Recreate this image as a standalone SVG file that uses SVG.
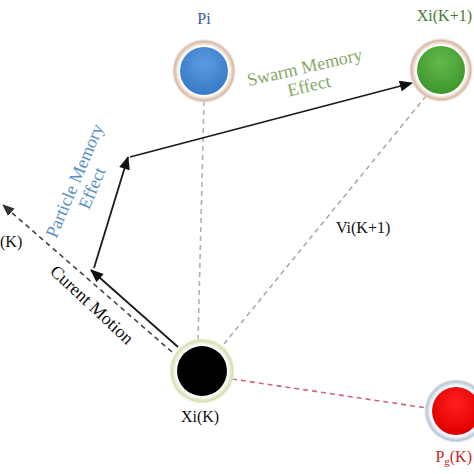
<svg xmlns="http://www.w3.org/2000/svg" width="474" height="474" viewBox="0 0 474 474">
<defs>
<style>
text{font-family:"Liberation Serif","DejaVu Serif",serif;font-size:16px}
.big{font-size:18px}
.solid{stroke:#1a1a1a;stroke-width:1.8;fill:none}
.dash{fill:none;stroke-width:1.6;stroke-dasharray:5 4}
</style>
<marker id="ah" viewBox="0 0 12 10" refX="11" refY="5" markerWidth="14" markerHeight="11" markerUnits="userSpaceOnUse" orient="auto">
<path d="M0,0 L12,5 L0,10 Z" fill="#111"/>
</marker>
<marker id="ahg" viewBox="0 0 12 10" refX="11" refY="5" markerWidth="12" markerHeight="10" markerUnits="userSpaceOnUse" orient="auto">
<path d="M0,0 L12,5 L0,10 Z" fill="#333"/>
</marker>
<radialGradient id="halo" cx="0.5" cy="0.5" r="0.5">
<stop offset="0.76" stop-color="#ffffff"/>
<stop offset="0.9" stop-color="#d6b8a4"/>
<stop offset="1" stop-color="#ffffff" stop-opacity="0"/>
</radialGradient>
<radialGradient id="haloY" cx="0.5" cy="0.5" r="0.5">
<stop offset="0.76" stop-color="#ffffff"/>
<stop offset="0.9" stop-color="#d8dcb0"/>
<stop offset="1" stop-color="#ffffff" stop-opacity="0"/>
</radialGradient>
<radialGradient id="haloB" cx="0.5" cy="0.5" r="0.5">
<stop offset="0.76" stop-color="#ffffff"/>
<stop offset="0.9" stop-color="#b8c4d4"/>
<stop offset="1" stop-color="#ffffff" stop-opacity="0"/>
</radialGradient>
<radialGradient id="blue" cx="0.5" cy="0.35" r="0.6">
<stop offset="0" stop-color="#5c9be0"/>
<stop offset="1" stop-color="#3a7cc8"/>
</radialGradient>
<radialGradient id="green" cx="0.5" cy="0.35" r="0.6">
<stop offset="0" stop-color="#66b84a"/>
<stop offset="1" stop-color="#3f9a2e"/>
</radialGradient>
<radialGradient id="red" cx="0.5" cy="0.35" r="0.6">
<stop offset="0" stop-color="#ff2020"/>
<stop offset="1" stop-color="#e00000"/>
</radialGradient>
</defs>
<rect width="474" height="474" fill="#ffffff"/>

<g id="connectors">
<line class="dash" x1="204" y1="101" x2="198" y2="341" stroke="#9ab8c4"/>
<line class="dash" x1="224" y1="344" x2="426" y2="96" stroke="#aaaaaa"/>
<line class="dash" x1="232" y1="379" x2="427" y2="408" stroke="#cc6677"/>
<line class="dash" x1="172" y1="352" x2="3" y2="205" stroke="#444" marker-end="url(#ahg)"/>
<line class="solid" x1="178" y1="347" x2="91" y2="270" marker-end="url(#ah)"/>
<line class="solid" x1="94" y1="268" x2="128" y2="157" marker-end="url(#ah)"/>
<line class="solid" x1="130" y1="157" x2="412" y2="83" marker-end="url(#ah)"/>
</g>

<g id="node-pi">
<circle cx="204" cy="71" r="33" fill="url(#halo)"/>
<circle cx="204" cy="71" r="24" fill="url(#blue)"/>
<text x="204" y="24" text-anchor="middle" fill="#3a5a9a">Pi</text>
</g>

<g id="node-xik1">
<circle cx="441" cy="70" r="33" fill="url(#halo)"/>
<circle cx="441" cy="70" r="24" fill="url(#green)"/>
<text x="472" y="21" text-anchor="end" fill="#4a7a3a">Xi(K+1)</text>
</g>

<g id="node-xik">
<circle cx="202" cy="371" r="34" fill="url(#haloY)"/>
<circle cx="202" cy="371" r="25" fill="#000"/>
<text x="200" y="422" text-anchor="middle" fill="#111">Xi(K)</text>
</g>

<g id="node-pg">
<circle cx="456" cy="411" r="33" fill="url(#haloB)"/>
<circle cx="456" cy="411" r="24" fill="url(#red)"/>
<text x="472" y="462" text-anchor="end" fill="#c0282a">P<tspan font-size="11" dy="3">g</tspan><tspan dy="-3">(K)</tspan></text>
</g>

<g id="labels">
<text x="0" y="247" fill="#111">(K)</text>
<text class="big" transform="translate(88,309) rotate(43)" text-anchor="middle" fill="#111">Curent Motion</text>
<g transform="translate(80,183) rotate(-67)" fill="#5a8fc8">
<text class="big" x="0" y="0" text-anchor="middle">Particle Memory</text>
<text class="big" x="0" y="19" text-anchor="middle">Effect</text>
</g>
<g transform="translate(306,73) rotate(-13)" fill="#86a866">
<text class="big" x="0" y="0" text-anchor="middle">Swarm Memory</text>
<text class="big" x="0" y="19" text-anchor="middle">Effect</text>
</g>
<text x="336" y="233" fill="#111">Vi(K+1)</text>
</g>
</svg>
